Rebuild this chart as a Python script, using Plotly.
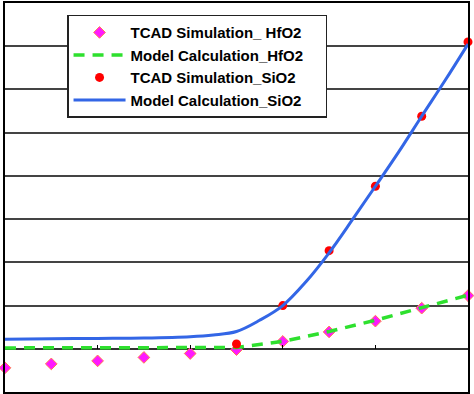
import plotly.graph_objects as go

# x positions (arbitrary units, 0..5)
x_pts = [0, 0.5, 1, 1.5, 2, 2.5, 3, 3.5, 4, 4.5, 5]
tcad_hfo2 = [-0.44, -0.35, -0.28, -0.2, -0.11, -0.02, 0.17, 0.39, 0.64, 0.94, 1.23]
model_hfo2 = [0.02, 0.02, 0.02, 0.02, 0.02, 0.03, 0.17, 0.4, 0.66, 0.95, 1.24]

x_sio2 = [2.5, 3, 3.5, 4, 4.5, 5]
tcad_sio2 = [0.11, 1.0, 2.27, 3.76, 5.38, 7.1]

x_model = [0, 0.5, 1, 1.5, 2, 2.25, 2.5, 2.75, 3, 3.25, 3.5, 3.75, 4, 4.25, 4.5, 4.75, 5]
model_sio2 = [0.22, 0.23, 0.24, 0.25, 0.28, 0.32, 0.4, 0.66, 1.0, 1.55, 2.22, 2.98, 3.76, 4.55, 5.38, 6.2, 7.05]

names = ["TCAD Simulation_ HfO2", "Model Calculation_HfO2",
         "TCAD Simulation_SiO2", "Model Calculation_SiO2"]
# white padding so the legend box is as wide as in the original
pad = '<span style="color:white">__</span>'

fig = go.Figure()
fig.add_trace(go.Scatter(x=x_pts, y=tcad_hfo2, mode="markers", name=names[0],
                         marker=dict(symbol="diamond", size=9, color="#FF19FF",
                                     line=dict(color="#FF7F50", width=1)),
                         cliponaxis=False))
fig.add_trace(go.Scatter(x=x_pts, y=model_hfo2, mode="lines", name=names[1] + pad,
                         line=dict(color="#2EE02E", width=3.5, dash="11px,8px")))
fig.add_trace(go.Scatter(x=x_sio2, y=tcad_sio2, mode="markers", name=names[2],
                         marker=dict(symbol="circle", size=9, color="#FF0000"),
                         cliponaxis=False))
fig.add_trace(go.Scatter(x=x_model, y=model_sio2, mode="lines", name=names[3],
                         xaxis="x2",
                         line=dict(color="#3366E6", width=3, shape="spline")))

fig.update_layout(
    width=474, height=394,
    margin=dict(l=5, r=6, t=1, b=2),
    paper_bgcolor="white", plot_bgcolor="white",
    showlegend=True,
    legend=dict(x=0.134, y=0.97, xanchor="left", yanchor="top",
                bgcolor="white", bordercolor="#222222", borderwidth=1.5,
                itemwidth=52,
                font=dict(family="Liberation Sans, Arial, sans-serif", size=15,
                          color="black", weight="bold")),
    xaxis=dict(range=[0, 5], showgrid=False, zeroline=False, showticklabels=False,
               ticks="", showline=True, linecolor="black", linewidth=2, mirror=True),
    yaxis=dict(range=[-1, 8], dtick=1, showgrid=True, gridcolor="#444444", gridwidth=1.5,
               zeroline=True, zerolinecolor="#333333", zerolinewidth=1.5,
               showticklabels=False, ticks="",
               showline=True, linecolor="black", linewidth=2, mirror=True),
    xaxis2=dict(range=[0, 5], overlaying="x", anchor="free", position=1/9, side="bottom",
                showgrid=False, zeroline=False, showline=False, showticklabels=False,
                ticks="inside", ticklen=4, tickwidth=1, tickcolor="black", dtick=1),
)

fig.write_html("out.html", config={"displayModeBar": False},
               post_script="document.body.style.margin='0';document.body.style.overflow='hidden';")
